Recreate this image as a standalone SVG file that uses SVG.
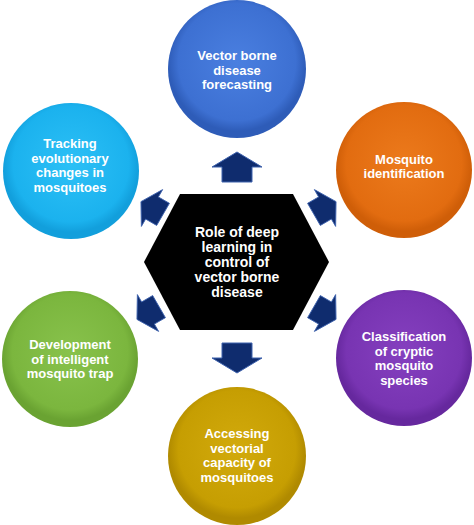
<svg xmlns="http://www.w3.org/2000/svg" width="474" height="525" viewBox="0 0 474 525">
<defs>
<radialGradient id="gBlue" cx="50%" cy="45%" r="50%"><stop offset="0" stop-color="#4a7fe0"/><stop offset="0.85" stop-color="#3d70d2"/><stop offset="1" stop-color="#2e5cb8"/></radialGradient>
<radialGradient id="gCyan" cx="50%" cy="45%" r="50%"><stop offset="0" stop-color="#2cc0f6"/><stop offset="0.85" stop-color="#1bb2ee"/><stop offset="1" stop-color="#129fdc"/></radialGradient>
<radialGradient id="gOrange" cx="50%" cy="45%" r="50%"><stop offset="0" stop-color="#ec7a1c"/><stop offset="0.85" stop-color="#e26c10"/><stop offset="1" stop-color="#cf5e08"/></radialGradient>
<radialGradient id="gGreen" cx="50%" cy="45%" r="50%"><stop offset="0" stop-color="#88c24c"/><stop offset="0.85" stop-color="#7bb63e"/><stop offset="1" stop-color="#6aa332"/></radialGradient>
<radialGradient id="gPurple" cx="50%" cy="45%" r="50%"><stop offset="0" stop-color="#8540bf"/><stop offset="0.85" stop-color="#7834b2"/><stop offset="1" stop-color="#66289e"/></radialGradient>
<radialGradient id="gYellow" cx="50%" cy="45%" r="50%"><stop offset="0" stop-color="#d2aa0c"/><stop offset="0.85" stop-color="#c69e02"/><stop offset="1" stop-color="#b08a00"/></radialGradient>
<path id="arr" d="M0,-15 L25,0 L15,0 L15,15 L-15,15 L-15,0 L-25,0 Z"/>
</defs>
<style>
.t{font-family:"Liberation Sans",Arial,sans-serif;font-weight:bold;font-size:13px;fill:#ffffff;text-anchor:middle}
.c{font-size:14px}
.a{fill:#0f2c6e;stroke:#3e62ad;stroke-width:1}
</style>
<rect width="474" height="525" fill="#ffffff"/>
<g id="connectors">
<use href="#arr" class="a" transform="translate(237,167)"/>
<use href="#arr" class="a" transform="translate(237,358) rotate(180)"/>
<use href="#arr" class="a" transform="translate(152,208) rotate(-60) scale(0.85)"/>
<use href="#arr" class="a" transform="translate(325,208) rotate(60) scale(0.85)"/>
<use href="#arr" class="a" transform="translate(148,313) rotate(-120) scale(0.85)"/>
<use href="#arr" class="a" transform="translate(325,313) rotate(120) scale(0.85)"/>
</g>
<g id="center">
<polygon points="180,194 293,194 329,262 293,330 180,330 144,262" fill="#000000"/>
<text class="t c" x="237" y="237">Role of deep</text>
<text class="t c" x="237" y="252">learning in</text>
<text class="t c" x="237" y="267">control of</text>
<text class="t c" x="237" y="282">vector borne</text>
<text class="t c" x="237" y="297">disease</text>
</g>
<g id="forecasting">
<circle cx="237" cy="69" r="69" fill="url(#gBlue)"/>
<text class="t" x="237" y="60">Vector borne</text>
<text class="t" x="237" y="74.5">disease</text>
<text class="t" x="237" y="89">forecasting</text>
</g>
<g id="tracking">
<circle cx="71" cy="171" r="68" fill="url(#gCyan)"/>
<text class="t" x="70" y="148">Tracking</text>
<text class="t" x="70" y="162.5">evolutionary</text>
<text class="t" x="70" y="177">changes in</text>
<text class="t" x="70" y="191.5">mosquitoes</text>
</g>
<g id="identification">
<circle cx="404" cy="170" r="68" fill="url(#gOrange)"/>
<text class="t" x="404" y="163.5">Mosquito</text>
<text class="t" x="404" y="178">identification</text>
</g>
<g id="trap">
<circle cx="70" cy="359" r="68" fill="url(#gGreen)"/>
<text class="t" x="70" y="349">Development</text>
<text class="t" x="70" y="363.5">of intelligent</text>
<text class="t" x="70" y="378">mosquito trap</text>
</g>
<g id="classification">
<circle cx="404" cy="358" r="68" fill="url(#gPurple)"/>
<text class="t" x="404" y="341">Classification</text>
<text class="t" x="404" y="355.5">of cryptic</text>
<text class="t" x="404" y="370">mosquito</text>
<text class="t" x="404" y="384.5">species</text>
</g>
<g id="capacity">
<circle cx="237" cy="456" r="69" fill="url(#gYellow)"/>
<text class="t" x="237" y="438">Accessing</text>
<text class="t" x="237" y="452.5">vectorial</text>
<text class="t" x="237" y="467">capacity of</text>
<text class="t" x="237" y="481.5">mosquitoes</text>
</g>
</svg>
